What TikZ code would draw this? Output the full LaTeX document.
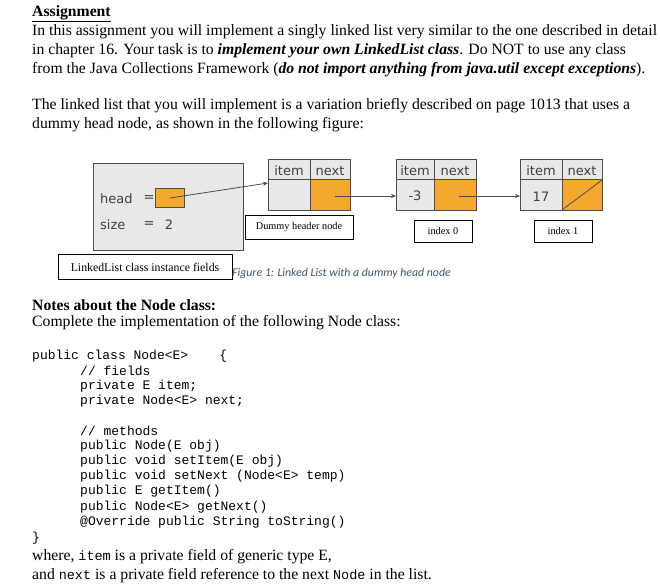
\documentclass[tikz,border=0pt]{standalone}
\usepackage{fontspec}
\setmainfont{Liberation Serif}
\setmonofont{Liberation Mono}
\newfontfamily\capfont{Carlito}
\newfontfamily\dsans{DejaVu Sans}
\usetikzlibrary{arrows.meta}
\begin{document}
\begin{tikzpicture}[x=1pt,y=-1pt,
  txt/.style={anchor=west,inner sep=0pt,font=\fontsize{15.7}{18}\selectfont},
  code/.style={anchor=west,inner sep=0pt,font=\ttfamily\fontsize{13}{15}\selectfont},
  cell/.style={draw=black!70,line width=1pt},
  lab/.style={draw,line width=0.6pt,font=\fontsize{10.3}{12}\selectfont,inner sep=0pt},
  ds/.style={font=\dsans\fontsize{13}{15}\selectfont,text=black!75,inner sep=0pt},
  arr/.style={-{Stealth[length=5pt,width=4pt]},black!70,line width=0.8pt}]
\useasboundingbox (0,0) rectangle (660,585);
\definecolor{org}{HTML}{F4A830}
\definecolor{lg}{HTML}{E8E8E8}
\definecolor{capc}{HTML}{44546A}
% text
\node[txt,font=\bfseries\fontsize{15.7}{18}\selectfont] (t0) at (32,14) {\underline{Assignment}};
\node[txt] (t1) at (32,32) {In this assignment you will implement a singly linked list very similar to the one described in detail};
\node[txt] (t2) at (32,51) {in chapter 16. Your task is to \textbf{\textit{implement your own LinkedList class}}. Do NOT to use any class};
\node[txt] (t3) at (32,70) {from the Java Collections Framework (\textbf{\textit{do not import anything from java.util except exceptions}}).};
\node[txt] (t4) at (32,106) {The linked list that you will implement is a variation briefly described on page 1013 that uses a};
\node[txt] (t5) at (32,125) {dummy head node, as shown in the following figure:};
% diagram
\node[cell,fill=lg,minimum width=150,minimum height=87,anchor=north west,inner sep=0] (ll) at (93,163) {};
\node[ds,anchor=west] (hd) at (100,199) {head};
\node[ds] (eq1) at (149,199) {=};
\node[draw=black!70,fill=org,minimum width=29,minimum height=19,inner sep=0,anchor=west] (hb) at (155,198) {};
\node[ds,anchor=west] (sz) at (100,225) {size};
\node[ds] (eq2) at (149,225) {=};
\node[ds] (two) at (169,225) {2};
% nodes
\foreach \n/\x/\w/\d in {dn/268/82/310, n0/396/80/434, n1/520/82/562}{
  \fill[lg] (\x,160) rectangle (\x+\w,210);
  \fill[org] (\d,180) rectangle (\x+\w,210);
  \draw[cell] (\x,160) rectangle (\x+\w,210) (\x,180) -- (\x+\w,180) (\d,160) -- (\d,210);
  \node[ds] (\n i) at ({(\x+\d)/2},171) {item};
  \node[ds] (\n n) at ({(\d+\x+\w)/2},171) {next};
  \coordinate (\n in) at (\x,183);
  \coordinate (\n w) at (\x,196);
  \coordinate (\n p) at ({\d+25},196);
}
\node[ds] (v0) at (415,196) {-3};
\node[ds] (v1) at (541,197) {17};
\draw[black!70,line width=0.8pt] (562,210) -- (602,180);
\coordinate (hp) at (170,198);
\draw[arr] (hp) -- (dnin);
\draw[arr] (dnp) -- (n0w);
\draw[arr] (n0p) -- (n1w);
\node[lab,minimum width=108,minimum height=24] (l1) at (299,227) {Dummy header node};
\node[lab,minimum width=58,minimum height=22] (l2) at (443,231) {index 0};
\node[lab,minimum width=58,minimum height=22] (l3) at (563,231) {index 1};
\node[lab,minimum width=174,minimum height=25,font=\fontsize{11.8}{13}\selectfont] (l4) at (145,267) {LinkedList class instance fields};
\node[anchor=west,inner sep=0,font=\capfont\itshape\fontsize{11.8}{13}\selectfont,text=capc] (cap) at (232,273) {Figure 1: Linked List with a dummy head node};
% notes
\node[txt,font=\bfseries\fontsize{15.7}{18}\selectfont] (n1h) at (32,305) {Notes about the Node class:};
\node[txt] (n2h) at (32,323) {Complete the implementation of the following Node class:};
\node[code] (c0) at (32,356) {public class Node<E>\ \ \ \ \{};
\node[code] (c1) at (80,371) {// fields};
\node[code] (c2) at (80,386) {private E item;};
\node[code] (c3) at (80,401) {private Node<E> next;};
\node[code] (c4) at (80,431) {// methods};
\node[code] (c5) at (80,446) {public Node(E obj)};
\node[code] (c6) at (80,461) {public void setItem(E obj)};
\node[code] (c7) at (80,476) {public void setNext (Node<E> temp)};
\node[code] (c8) at (80,491) {public E getItem()};
\node[code] (c9) at (80,507) {public Node<E> getNext()};
\node[code] (c10) at (80,522) {@Override public String toString()};
\node[code] (c11) at (32,538) {\}};
\node[txt] (w1) at (32,557) {where, {\ttfamily\fontsize{13.5}{15}\selectfont item} is a private field of generic type E,};
\node[txt] (w2) at (32,576) {and {\ttfamily\fontsize{13.5}{15}\selectfont next} is a private field reference to the next {\ttfamily\fontsize{13.5}{15}\selectfont Node} in the list.};
\end{tikzpicture}
\end{document}
